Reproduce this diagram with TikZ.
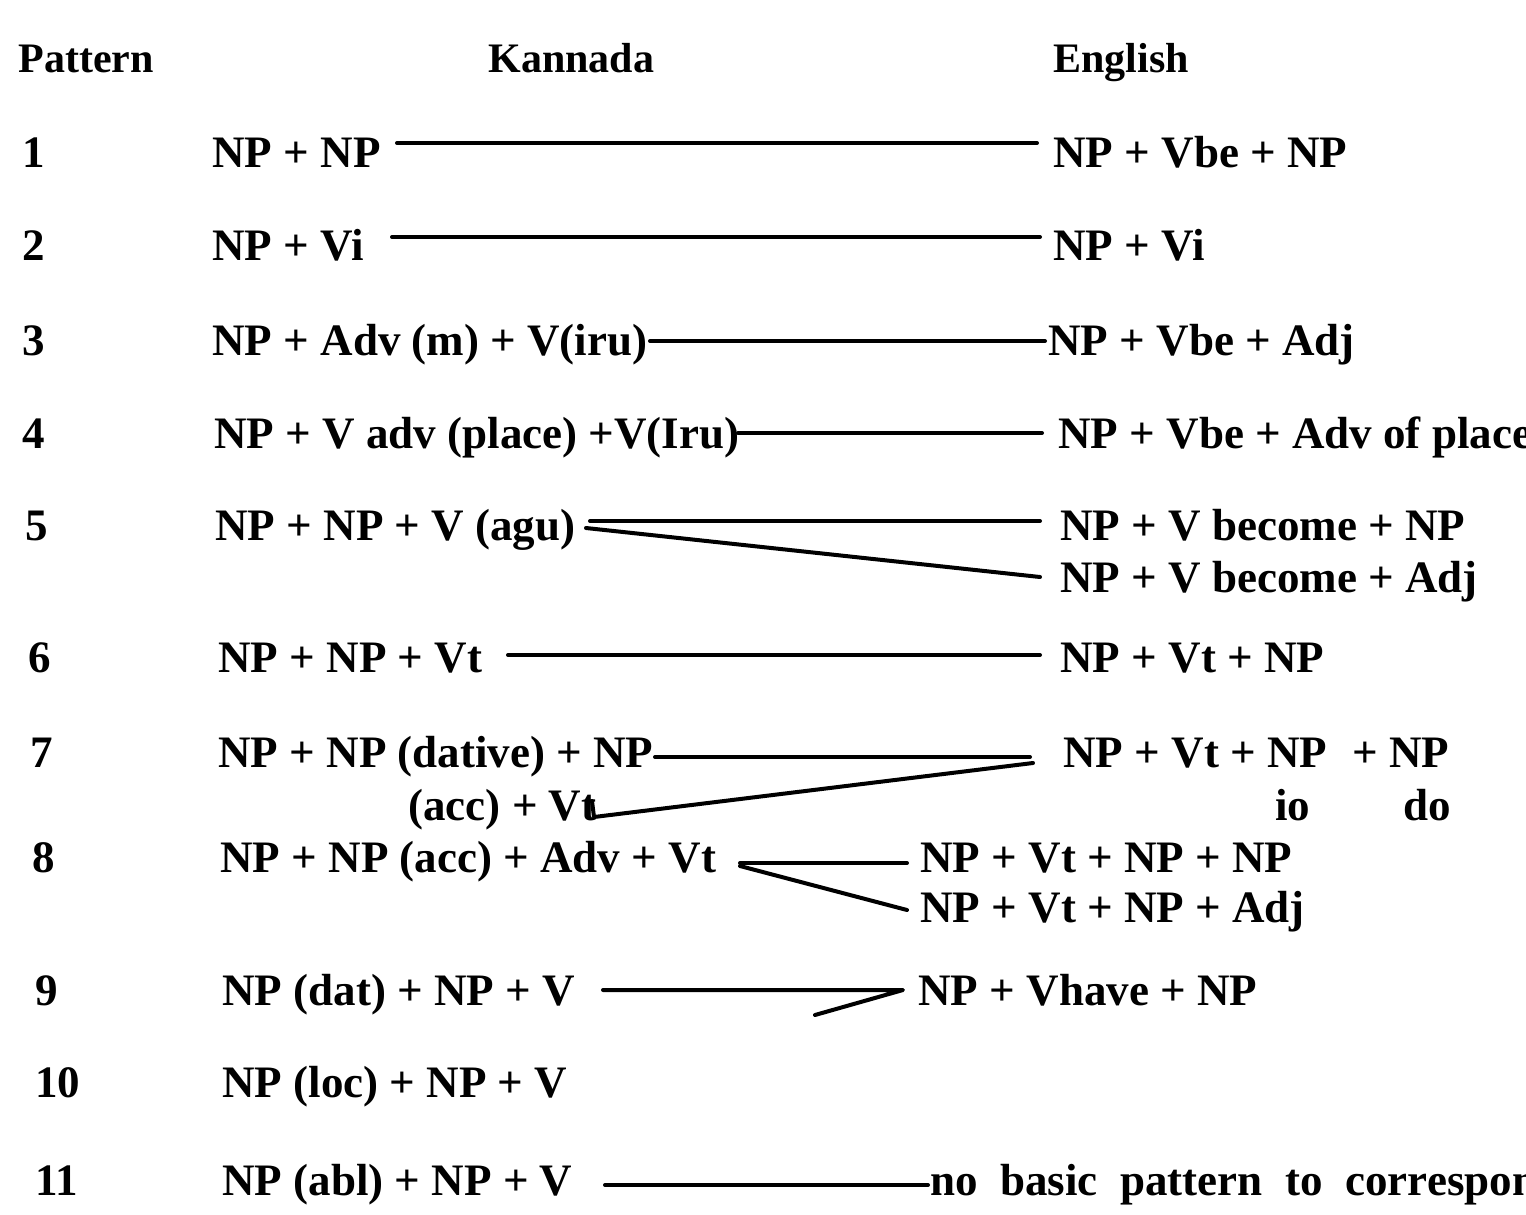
\documentclass[tikz,border=0pt]{standalone}
\usepackage{fontspec}
\setmainfont{Liberation Serif}
\begin{document}
\begin{tikzpicture}[x=0.5pt,y=-0.5pt,
  txt/.style={anchor=base west,inner sep=0pt,font=\fontsize{22.5}{26}\selectfont\bfseries},
  hdr/.style={anchor=base west,inner sep=0pt,font=\fontsize{21}{24}\selectfont\bfseries},
  conn/.style={line width=2pt,line cap=round,line join=round}]
\useasboundingbox (0,0) rectangle (1526,1215);
\clip (0,0) rectangle (1526,1215);
% header
\node[hdr] (hp) at (18,72) {Pattern};
\node[hdr] (hk) at (488,72) {Kannada};
\node[hdr] (he) at (1053,72) {English};
% numbers
\node[txt] (n1) at (22,167) {1};
\node[txt] (n2) at (22,260) {2};
\node[txt] (n3) at (22,355) {3};
\node[txt] (n4) at (22,448) {4};
\node[txt] (n5) at (25,540) {5};
\node[txt] (n6) at (28,672) {6};
\node[txt] (n7) at (30,767) {7};
\node[txt] (n8) at (32,872) {8};
\node[txt] (n9) at (35,1005) {9};
\node[txt] (n10) at (35,1097) {10};
\node[txt] (n11) at (35,1195) {11};
% Kannada
\node[txt] (k1) at (212,167) {NP + NP};
\node[txt] (k2) at (212,260) {NP + Vi};
\node[txt] (k3) at (212,355) {NP + Adv (m) + V(iru)};
\node[txt] (k4) at (214,448) {NP + V adv (place) +V(Iru)};
\node[txt] (k5) at (215,540) {NP + NP + V (agu)};
\node[txt] (k6) at (218,672) {NP + NP + Vt};
\node[txt] (k7) at (218,767) {NP + NP (dative) + NP};
\node[txt] (k7b) at (408,820) {(acc) + Vt};
\node[txt] (k8) at (220,872) {NP + NP (acc) + Adv + Vt};
\node[txt] (k9) at (222,1005) {NP (dat) + NP + V};
\node[txt] (k10) at (222,1097) {NP (loc) + NP + V};
\node[txt] (k11) at (222,1195) {NP (abl) + NP + V};
% English
\node[txt] (e1) at (1053,167) {NP + Vbe + NP};
\node[txt] (e2) at (1053,260) {NP + Vi};
\node[txt] (e3) at (1048,355) {NP + Vbe + Adj};
\node[txt] (e4) at (1058,448) {NP + Vbe + Adv of place};
\node[txt] (e5a) at (1060,540) {NP + V become + NP};
\node[txt] (e5b) at (1060,592) {NP + V become + Adj};
\node[txt] (e6) at (1060,672) {NP + Vt + NP};
\node[txt] (e7) at (1063,767) {NP + Vt + NP};
\node[txt] (e7n) at (1352,767) {+ NP};
\node[txt] (io) at (1275,820) {io};
\node[txt] (do) at (1403,820) {do};
\node[txt] (e8a) at (920,872) {NP + Vt + NP + NP};
\node[txt] (e8b) at (920,922) {NP + Vt + NP + Adj};
\node[txt] (e9) at (918,1005) {NP + Vhave + NP};
\node[txt] (e11) at (930,1195) {no\ \ basic\ \ pattern\ \ to\ \ correspond};
% connector end points
\coordinate (a1) at (397,143); \coordinate (b1) at (1037,143);
\coordinate (a2) at (392,237); \coordinate (b2) at (1040,237);
\coordinate (a3) at (650,341); \coordinate (b3) at (1045,341);
\coordinate (a4) at (738,433); \coordinate (b4) at (1042,433);
\coordinate (a5) at (590,521); \coordinate (b5) at (1040,521);
\coordinate (a5b) at (586,528); \coordinate (b5b) at (1040,577);
\coordinate (a6) at (508,655); \coordinate (b6) at (1040,655);
\coordinate (a7) at (655,757); \coordinate (b7) at (1030,757);
\coordinate (c7) at (1033,763); \coordinate (d7) at (594,817); \coordinate (t7) at (592,801);
\coordinate (a8) at (740,863); \coordinate (b8) at (907,863);
\coordinate (a8b) at (740,866); \coordinate (b8b) at (907,910);
\coordinate (a9) at (603,990); \coordinate (b9) at (903,990); \coordinate (c9) at (815,1015);
\coordinate (a11) at (605,1185); \coordinate (b11) at (928,1185);
% connectors
\draw[conn] (a1) -- (b1);
\draw[conn] (a2) -- (b2);
\draw[conn] (a3) -- (b3);
\draw[conn] (a4) -- (b4);
\draw[conn] (a5) -- (b5);
\draw[conn] (a5b) -- (b5b);
\draw[conn] (a6) -- (b6);
\draw[conn] (a7) -- (b7);
\draw[conn] (c7) -- (d7) -- (t7);
\draw[conn] (a8) -- (b8);
\draw[conn] (a8b) -- (b8b);
\draw[conn] (a9) -- (b9) -- (c9);
\draw[conn] (a11) -- (b11);
\end{tikzpicture}
\end{document}
